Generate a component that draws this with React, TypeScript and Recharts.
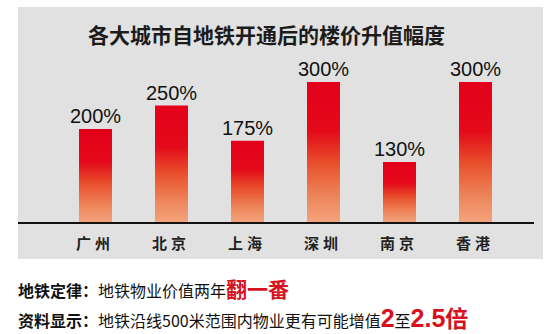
import React from 'react';
import { BarChart, Bar, XAxis, YAxis, LabelList } from 'recharts';

const cities = ['广州', '北京', '上海', '深圳', '南京', '香港'];
const rises = [200, 250, 175, 300, 130, 300];
const title = '各大城市自地铁开通后的楼价升值幅度';

const data = cities.map((c, i) => ({ city: c, value: rises[i] }));

const CJK = '"Noto Sans CJK SC", "Liberation Sans", sans-serif';
const LATIN = '"Liberation Sans", "Noto Sans CJK SC", sans-serif';

const CityTick = (props: any) => {
  const { x, y, payload } = props;
  return (
    <text
      x={x}
      y={y + 19}
      textAnchor="middle"
      dominantBaseline="central"
      fontSize={15}
      fontWeight="bold"
      letterSpacing={4}
      fill="#222"
      fontFamily={CJK}
    >
      {payload.value}
    </text>
  );
};

export default function App() {
  return (
    <div style={{ position: 'absolute', left: 0, top: 0, width: 554, height: 334, background: '#fff', overflow: 'hidden' }}>
      <div style={{ position: 'absolute', left: 18, top: 7, width: 525, height: 252, background: '#e1e1e1' }} />
      <div
        style={{
          position: 'absolute', left: 88, top: 21, whiteSpace: 'nowrap',
          fontFamily: CJK, fontWeight: 'bold', fontSize: 21, lineHeight: '26px', color: '#1c1c1c',
        }}
      >
        {title}
      </div>
      <div style={{ position: 'absolute', left: 18, top: 222, width: 516, height: 2, background: '#111' }} />
      <div style={{ position: 'absolute', left: 0, top: 0 }}>
        <BarChart
          width={554}
          height={334}
          data={data}
          margin={{ top: 82, right: 20, bottom: 81, left: 18 }}
          barSize={33}
        >
          <defs>
            <linearGradient id="barGrad" x1="0" y1="0" x2="0" y2="1">
              <stop offset="0%" stopColor="#e3001b" />
              <stop offset="35%" stopColor="#e40a1a" />
              <stop offset="58%" stopColor="#e8502c" />
              <stop offset="82%" stopColor="#ee875c" />
              <stop offset="100%" stopColor="#f4a47e" />
            </linearGradient>
          </defs>
          <XAxis
            dataKey="city"
            height={30}
            tickLine={false}
            tickSize={0}
            tickMargin={0}
            axisLine={{ stroke: '#111', strokeWidth: 2 }}
            padding={{ left: 39, right: 21 }}
            tick={<CityTick />}
            interval={0}
          />
          <YAxis hide domain={[0, 300]} />
          <Bar dataKey="value" fill="url(#barGrad)" isAnimationActive={false}>
            <LabelList
              dataKey="value"
              position="top"
              offset={6}
              formatter={(v: any) => `${v}%`}
              style={{ fontSize: 20, fill: '#111', fontFamily: LATIN }}
            />
          </Bar>
        </BarChart>
      </div>
      <div
        style={{
          position: 'absolute', left: 18, top: 278, whiteSpace: 'nowrap',
          fontFamily: CJK, fontSize: 16, lineHeight: '20px', color: '#111',
        }}
      >
        <span style={{ fontWeight: 'bold' }}>地铁定律：</span>
        <span>地铁物业价值两年</span>
        <span style={{ color: '#d7111e', fontWeight: 'bold', fontSize: 21, lineHeight: '20px' }}>翻一番</span>
      </div>
      <div
        style={{
          position: 'absolute', left: 18, top: 307, whiteSpace: 'nowrap',
          fontFamily: CJK, fontSize: 16, lineHeight: '20px', color: '#111',
        }}
      >
        <span style={{ fontWeight: 'bold' }}>资料显示：</span>
        <span>地铁沿线500米范围内物业更有可能增值</span>
        <span style={{ color: '#d7111e', fontWeight: 'bold', fontSize: 25, lineHeight: '20px', fontFamily: LATIN }}>2</span>
        <span>至</span>
        <span style={{ color: '#d7111e', fontWeight: 'bold', fontSize: 25, lineHeight: '20px', fontFamily: LATIN }}>2.5</span>
        <span style={{ color: '#d7111e', fontWeight: 'bold', fontSize: 23, lineHeight: '20px' }}>倍</span>
      </div>
    </div>
  );
}
